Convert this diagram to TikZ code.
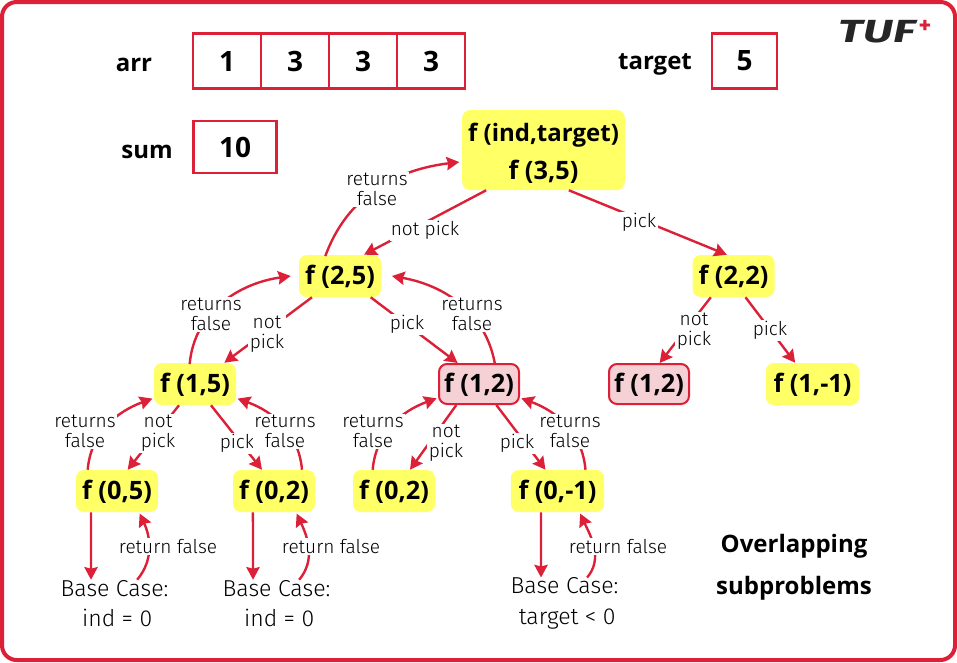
\documentclass[tikz,border=0pt]{standalone}
\usepackage{fontspec}
\setmainfont{Fira Sans Light}
\newfontfamily\headfont{Open Sans}
\newfontfamily\logofont{Fira Sans}
\usetikzlibrary{arrows.meta}
\definecolor{tufred}{HTML}{DB2038}
\definecolor{tufyellow}{HTML}{FFFF66}
\definecolor{tufpink}{HTML}{F5D0D5}
\tikzset{
	head/.style={font=\headfont\bfseries\fontsize{18}{22}\selectfont,inner sep=0pt,yshift=-2pt},
	cell/.style={draw=tufred,line width=1.9pt,minimum width=51pt,minimum height=41pt,inner sep=0pt,font=\headfont\bfseries\fontsize{21}{22}\selectfont},
	call/.style={fill=tufyellow,rounded corners=6pt,minimum width=61.5pt,minimum height=31.5pt,inner sep=0pt,text height=15pt,text depth=2pt,font=\headfont\bfseries\fontsize{19}{22}\selectfont},
	seen/.style={call,fill=tufpink,draw=tufred,line width=1.5pt,minimum width=60pt,minimum height=30pt},
	edge/.style={draw=tufred,line width=1.8pt,-{Stealth[length=9.5pt,width=10pt,inset=1.2pt]}},
	lbl/.style={fill=white,inner sep=1pt,align=center,yshift=-1pt,font=\fontsize{14.3}{15}\selectfont},
	basecase/.style={align=center,inner sep=0pt,font=\fontsize{17.3}{23}\selectfont}
}
\begin{document}
\begin{tikzpicture}[x=0.75pt,y=-0.75pt]
	\useasboundingbox (0,0) rectangle (957,662);
	\draw[tufred,line width=3pt,rounded corners=11pt] (2,2) rectangle (955,660);

	\draw (134,62) node[head] (arr){arr};
	\draw (147,149) node[head] (sum){sum};
	\draw (655,62) node[head] (target){target};

	\draw (227,61) node[cell] (a0){1};
	\draw (295,61) node[cell] (a1){3};
	\draw (363,61) node[cell] (a2){3};
	\draw (431,61) node[cell] (a3){3};
	\draw (235,147) node[cell,minimum width=62pt,minimum height=39pt] (sumval){10};
	\draw (744.5,61) node[cell,minimum width=49pt] (targetval){5};

	\draw (877,32) node[font=\logofont\bfseries\itshape\fontsize{24}{24}\selectfont,text=black!85,inner sep=0pt,xscale=1.45] (logo){TUF};
	\draw (925,27) node[font=\logofont\bfseries\fontsize{18}{18}\selectfont,text=tufred,inner sep=0pt] (logoplus){+};

	\draw (543.5,150) node[call,text height=,text depth=,minimum width=122pt,minimum height=60pt,align=center,font=\headfont\bfseries\fontsize{18}{28.5}\selectfont] (root){\rule{0pt}{18.3pt}f (ind,target)\\{\fontsize{19}{28.5}\selectfont f (3,5)}};
	\draw (340,276) node[call] (f25){f (2,5)};
	\draw (733.5,276) node[call] (f22){f (2,2)};
	\draw (195,384) node[call] (f15){f (1,5)};
	\draw (479,384) node[seen] (f12){f (1,2)};
	\draw (649,384) node[seen] (f12b){f (1,2)};
	\draw (812.5,384) node[call,minimum width=70pt] (f1m1){f (1,-1)};
	\draw (117,491) node[call] (f05){f (0,5)};
	\draw (274,491) node[call] (f02){f (0,2)};
	\draw (394,491) node[call] (f02b){f (0,2)};
	\draw (557.5,491) node[call,minimum width=70pt] (f0m1){f (0,-1)};

	\draw (114.5,603.5) node[basecase] (base1){Base Case:\\\hspace*{4pt}ind = 0};
	\draw (276.5,603.5) node[basecase] (base2){Base Case:\\\hspace*{4pt}ind = 0};
	\draw (564.5,603.5) node[basecase] (base3){Base Case:\\\hspace*{4pt}target < 0};

	\draw (794,564.5) node[head,align=center,font=\headfont\bfseries\fontsize{18}{32}\selectfont] (note){Overlapping\\subproblems};

	\draw[edge] ([xshift=-43pt]root.south) -- ([xshift=18pt]f25.north);
	\draw[edge] ([xshift=19pt]root.south) -- ([xshift=-5pt]f22.north);
	\draw[edge] ([xshift=-11pt,yshift=-1pt]f25.north) to[out=70,in=187] ([yshift=-9pt,xshift=-2pt]root.west);
	\draw[edge] ([xshift=-21pt]f25.south) -- ([xshift=22pt]f15.north);
	\draw[edge] ([xshift=23pt]f25.south) -- ([xshift=-16pt]f12.north);
	\draw[edge] ([xshift=-4pt,yshift=-1pt]f15.north) to[out=85,in=188] ([xshift=-6pt]f25.west);
	\draw[edge] ([xshift=12pt,yshift=-1pt]f12.north) to[out=100,in=-10] ([xshift=8pt]f25.east);
	\draw[edge] ([xshift=-17pt]f22.south) -- ([xshift=8pt]f12b.north);
	\draw[edge] ([xshift=9pt]f22.south) -- ([xshift=-13pt]f1m1.north);
	\draw[edge] ([xshift=-12pt]f15.south) -- ([xshift=8pt]f05.north);
	\draw[edge] ([xshift=12pt]f15.south) -- ([xshift=-9pt]f02.north);
	\draw[edge] ([xshift=-22pt]f05.north) to[out=85,in=200] ([xshift=-1pt,yshift=5pt]f15.south west);
	\draw[edge] ([xshift=21pt]f02.north) to[out=95,in=-20] ([xshift=1pt,yshift=5pt]f15.south east);
	\draw[edge] ([xshift=-16pt]f02b.north) to[out=85,in=200] ([xshift=-1pt,yshift=5pt]f12.south west);
	\draw[edge] ([xshift=-17pt]f12.south) -- ([xshift=12pt]f02b.north);
	\draw[edge] ([xshift=13pt]f12.south) -- ([xshift=-9pt]f0m1.north);
	\draw[edge] ([xshift=21pt]f0m1.north) to[out=95,in=-20] ([xshift=1pt,yshift=5pt]f12.south east);
	\draw[edge] ([xshift=-19.5pt]f05.south) -- ([xshift=-17.6pt]base1.north);
	\draw[edge] ([xshift=-15.8pt]f02.south) -- ([xshift=-17.6pt]base2.north);
	\draw[edge] ([xshift=-12.4pt]f0m1.south) -- ([xshift=-17.6pt]base3.north);
	\draw[edge] ([xshift=17pt]base1.north) to[out=50,in=-65] ([xshift=17pt,yshift=-1pt]f05.south);
	\draw[edge] ([xshift=17pt]base2.north) to[out=50,in=-65] ([xshift=17pt,yshift=-1pt]f02.south);
	\draw[edge] ([xshift=17pt]base3.north) to[out=50,in=-65] ([xshift=17pt,yshift=-1pt]f0m1.south);

	\draw (425,229) node[lbl] (l1){not pick};
	\draw (639,221) node[lbl] (l2){pick};
	\draw (377,188) node[lbl] (l3){returns\\false};
	\draw (267,333) node[lbl] (l4){not\\pick};
	\draw (407,323) node[lbl] (l5){pick};
	\draw (211,313) node[lbl] (l6){returns\\false};
	\draw (472,313) node[lbl] (l7){returns\\false};
	\draw (694,330) node[lbl] (l8){not\\pick};
	\draw (770,329) node[lbl] (l9){pick};
	\draw (158,432) node[lbl] (l10){not\\pick};
	\draw (237,442) node[lbl] (l11){pick};
	\draw (85,430) node[lbl] (l12){returns\\false};
	\draw (285,430) node[lbl] (l13){returns\\false};
	\draw (446,442) node[lbl] (l14){not\\pick};
	\draw (517,442) node[lbl] (l15){pick};
	\draw (373,430) node[lbl] (l16){returns\\false};
	\draw (570,430) node[lbl] (l17){returns\\false};
	\draw (168,545) node[lbl] (l18){return false};
	\draw (331,545) node[lbl] (l19){return false};
	\draw (618,545) node[lbl] (l20){return false};
\end{tikzpicture}
\end{document}
